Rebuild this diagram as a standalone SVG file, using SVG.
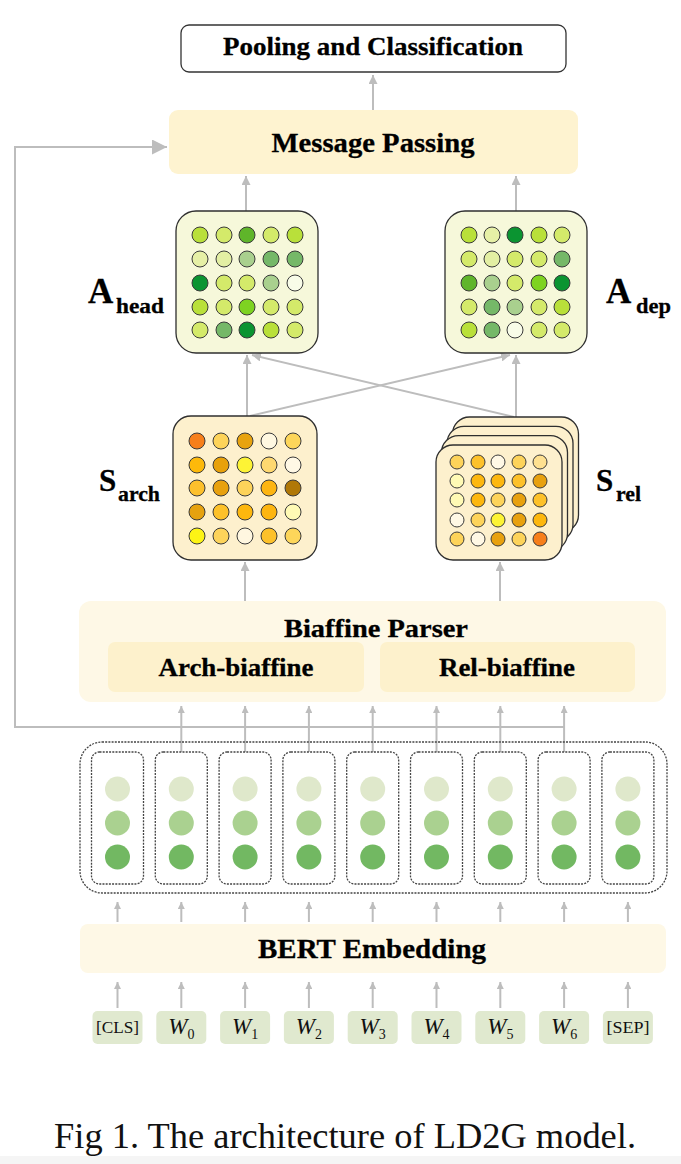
<svg xmlns="http://www.w3.org/2000/svg" width="681" height="1164" viewBox="0 0 681 1164">
<style>
.t{font-family:"Liberation Serif","Times New Roman",serif;font-weight:bold;fill:#000;stroke:#000;stroke-width:0.3}
.c{stroke:#3a3a3a;stroke-width:1}
.con{stroke:#bdbdbd;stroke-width:2;fill:none}
.mat{stroke:#2f2f2f;stroke-width:1.3}
.dot{fill:none;stroke:#444;stroke-width:1.3;stroke-dasharray:2 1.2}
.tok{fill:#e0e9cf}
.tt{font-family:"Liberation Serif","Times New Roman",serif;fill:#111}
</style>
<defs>
<marker id="ah" viewBox="0 0 10 10" refX="10" refY="5" markerWidth="9" markerHeight="9" markerUnits="userSpaceOnUse" orient="auto"><path d="M0,0 L10,5 L0,10 z" fill="#bdbdbd"/></marker>
<marker id="ahs" viewBox="0 0 10 10" refX="10" refY="5" markerWidth="8" markerHeight="7" markerUnits="userSpaceOnUse" orient="auto"><path d="M0,0 L10,5 L0,10 z" fill="#bdbdbd"/></marker>
<marker id="ahb" viewBox="0 0 10 10" refX="10" refY="5" markerWidth="16" markerHeight="15" markerUnits="userSpaceOnUse" orient="auto"><path d="M0,0 L10,5 L0,10 z" fill="#bdbdbd"/></marker>
</defs>
<rect x="0" y="0" width="681" height="1164" fill="#ffffff"/>
<rect x="0" y="1156" width="681" height="8" fill="#f5f5f5"/>

<g id="connectors">
<line class="con" x1="373" y1="110" x2="373" y2="75" marker-end="url(#ah)"/>
<line class="con" x1="246" y1="211" x2="246" y2="176" marker-end="url(#ah)"/>
<line class="con" x1="516" y1="211" x2="516" y2="176" marker-end="url(#ah)"/>
<polyline class="con" points="564,727 15,727 15,147 167,147" marker-end="url(#ahb)"/>
<line class="con" x1="247" y1="416" x2="247" y2="355" marker-end="url(#ah)"/>
<line class="con" x1="250" y1="416" x2="510" y2="355" marker-end="url(#ah)"/>
<line class="con" x1="514" y1="417" x2="252" y2="355" marker-end="url(#ah)"/>
<line class="con" x1="516" y1="417" x2="516" y2="355" marker-end="url(#ah)"/>
<line class="con" x1="245" y1="636" x2="245" y2="562" marker-end="url(#ah)"/>
<line class="con" x1="500" y1="636" x2="500" y2="562" marker-end="url(#ah)"/>
<g marker-end="url(#ahs)">
<line class="con" x1="181.3" y1="752" x2="181.3" y2="706"/>
<line class="con" x1="245.1" y1="752" x2="245.1" y2="706"/>
<line class="con" x1="308.9" y1="752" x2="308.9" y2="706"/>
<line class="con" x1="372.7" y1="752" x2="372.7" y2="706"/>
<line class="con" x1="436.5" y1="752" x2="436.5" y2="706"/>
<line class="con" x1="500.3" y1="752" x2="500.3" y2="706"/>
<line class="con" x1="564.1" y1="752" x2="564.1" y2="706"/>
</g>
<g marker-end="url(#ahs)">
<line class="con" x1="117.5" y1="922" x2="117.5" y2="902"/>
<line class="con" x1="181.3" y1="922" x2="181.3" y2="902"/>
<line class="con" x1="245.1" y1="922" x2="245.1" y2="902"/>
<line class="con" x1="308.9" y1="922" x2="308.9" y2="902"/>
<line class="con" x1="372.7" y1="922" x2="372.7" y2="902"/>
<line class="con" x1="436.5" y1="922" x2="436.5" y2="902"/>
<line class="con" x1="500.3" y1="922" x2="500.3" y2="902"/>
<line class="con" x1="564.1" y1="922" x2="564.1" y2="902"/>
<line class="con" x1="627.9" y1="922" x2="627.9" y2="902"/>
</g>
<g marker-end="url(#ahs)">
<line class="con" x1="117.5" y1="1008" x2="117.5" y2="982"/>
<line class="con" x1="181.3" y1="1008" x2="181.3" y2="982"/>
<line class="con" x1="245.1" y1="1008" x2="245.1" y2="982"/>
<line class="con" x1="308.9" y1="1008" x2="308.9" y2="982"/>
<line class="con" x1="372.7" y1="1008" x2="372.7" y2="982"/>
<line class="con" x1="436.5" y1="1008" x2="436.5" y2="982"/>
<line class="con" x1="500.3" y1="1008" x2="500.3" y2="982"/>
<line class="con" x1="564.1" y1="1008" x2="564.1" y2="982"/>
<line class="con" x1="627.9" y1="1008" x2="627.9" y2="982"/>
</g>
</g>

<g id="pooling">
<rect x="181" y="25" width="385" height="47" rx="8" fill="#fff" stroke="#333" stroke-width="1.3"/>
<text class="t" x="373" y="55" font-size="26" text-anchor="middle" textLength="300" lengthAdjust="spacingAndGlyphs">Pooling and Classification</text>
</g>

<g id="message-passing">
<rect x="169" y="110" width="409" height="64" rx="9" fill="#fef3d0"/>
<text class="t" x="373" y="152" font-size="28" text-anchor="middle" textLength="203" lengthAdjust="spacingAndGlyphs">Message Passing</text>
</g>

<g id="A-head">
<rect class="mat" x="176" y="211" width="142" height="142" rx="20" fill="#f6f8da"/>
<circle class="c" cx="200" cy="235" r="8" fill="#b9e03a"/><circle class="c" cx="224" cy="235" r="8" fill="#d4ea6a"/><circle class="c" cx="247" cy="235" r="8" fill="#5fb52a"/><circle class="c" cx="271" cy="235" r="8" fill="#d4ea6a"/><circle class="c" cx="295" cy="235" r="8" fill="#b9e03a"/>
<circle class="c" cx="200" cy="259" r="8" fill="#e6f0a6"/><circle class="c" cx="224" cy="259" r="8" fill="#e3efa3"/><circle class="c" cx="247" cy="259" r="8" fill="#a9d08e"/><circle class="c" cx="271" cy="259" r="8" fill="#75b868"/><circle class="c" cx="295" cy="259" r="8" fill="#75b868"/>
<circle class="c" cx="200" cy="283" r="8" fill="#0b9431"/><circle class="c" cx="224" cy="283" r="8" fill="#d4ea6a"/><circle class="c" cx="247" cy="283" r="8" fill="#d4ea6a"/><circle class="c" cx="271" cy="283" r="8" fill="#a9d08e"/><circle class="c" cx="295" cy="283" r="8" fill="#f8fce8"/>
<circle class="c" cx="200" cy="307" r="8" fill="#b9e03a"/><circle class="c" cx="224" cy="307" r="8" fill="#d4ea6a"/><circle class="c" cx="247" cy="307" r="8" fill="#7ed321"/><circle class="c" cx="271" cy="307" r="8" fill="#d4ea6a"/><circle class="c" cx="295" cy="307" r="8" fill="#d4ea6a"/>
<circle class="c" cx="200" cy="330" r="8" fill="#d4ea6a"/><circle class="c" cx="224" cy="330" r="8" fill="#75b868"/><circle class="c" cx="247" cy="330" r="8" fill="#0b9431"/><circle class="c" cx="271" cy="330" r="8" fill="#b9e03a"/><circle class="c" cx="295" cy="330" r="8" fill="#d4ea6a"/>
<text class="t" x="88" y="303" font-size="35">A</text>
<text class="t" x="116" y="313" font-size="22" textLength="48" lengthAdjust="spacingAndGlyphs">head</text>
</g>

<g id="A-dep">
<rect class="mat" x="445" y="211" width="142" height="142" rx="20" fill="#f6f8da"/>
<circle class="c" cx="469" cy="235" r="8" fill="#b9e03a"/><circle class="c" cx="492" cy="235" r="8" fill="#e6f0a6"/><circle class="c" cx="515" cy="235" r="8" fill="#0b9431"/><circle class="c" cx="539" cy="235" r="8" fill="#b9e03a"/><circle class="c" cx="562" cy="235" r="8" fill="#d4ea6a"/>
<circle class="c" cx="469" cy="259" r="8" fill="#d4ea6a"/><circle class="c" cx="492" cy="259" r="8" fill="#e3efa3"/><circle class="c" cx="515" cy="259" r="8" fill="#d4ea6a"/><circle class="c" cx="539" cy="259" r="8" fill="#d4ea6a"/><circle class="c" cx="562" cy="259" r="8" fill="#75b868"/>
<circle class="c" cx="469" cy="283" r="8" fill="#5fb52a"/><circle class="c" cx="492" cy="283" r="8" fill="#a9d08e"/><circle class="c" cx="515" cy="283" r="8" fill="#d4ea6a"/><circle class="c" cx="539" cy="283" r="8" fill="#7ed321"/><circle class="c" cx="562" cy="283" r="8" fill="#0b9431"/>
<circle class="c" cx="469" cy="307" r="8" fill="#d4ea6a"/><circle class="c" cx="492" cy="307" r="8" fill="#75b868"/><circle class="c" cx="515" cy="307" r="8" fill="#a9d08e"/><circle class="c" cx="539" cy="307" r="8" fill="#d4ea6a"/><circle class="c" cx="562" cy="307" r="8" fill="#b9e03a"/>
<circle class="c" cx="469" cy="330" r="8" fill="#b9e03a"/><circle class="c" cx="492" cy="330" r="8" fill="#75b868"/><circle class="c" cx="515" cy="330" r="8" fill="#f8fce8"/><circle class="c" cx="539" cy="330" r="8" fill="#d4ea6a"/><circle class="c" cx="562" cy="330" r="8" fill="#d4ea6a"/>
<text class="t" x="606" y="303" font-size="35">A</text>
<text class="t" x="636" y="313" font-size="22" textLength="35" lengthAdjust="spacingAndGlyphs">dep</text>
</g>

<g id="S-arch">
<rect class="mat" x="173" y="416" width="144" height="144" rx="18" fill="#fdf0cd"/>
<circle class="c" cx="197" cy="441" r="8" fill="#f77f1b"/><circle class="c" cx="221" cy="441" r="8" fill="#fdd35a"/><circle class="c" cx="245" cy="441" r="8" fill="#e8a30f"/><circle class="c" cx="269" cy="441" r="8" fill="#fff8e1"/><circle class="c" cx="293" cy="441" r="8" fill="#fdd65a"/>
<circle class="c" cx="197" cy="465" r="8" fill="#fdb90a"/><circle class="c" cx="221" cy="465" r="8" fill="#e8a10a"/><circle class="c" cx="245" cy="465" r="8" fill="#fdf335"/><circle class="c" cx="269" cy="465" r="8" fill="#fed870"/><circle class="c" cx="293" cy="465" r="8" fill="#fff8e5"/>
<circle class="c" cx="197" cy="488" r="8" fill="#fdc02c"/><circle class="c" cx="221" cy="488" r="8" fill="#e8a10f"/><circle class="c" cx="245" cy="488" r="8" fill="#fdd35a"/><circle class="c" cx="269" cy="488" r="8" fill="#fdb512"/><circle class="c" cx="293" cy="488" r="8" fill="#b07807"/>
<circle class="c" cx="197" cy="512" r="8" fill="#e6a20f"/><circle class="c" cx="221" cy="512" r="8" fill="#fdc12a"/><circle class="c" cx="245" cy="512" r="8" fill="#fdb70e"/><circle class="c" cx="269" cy="512" r="8" fill="#fdb510"/><circle class="c" cx="293" cy="512" r="8" fill="#fffab5"/>
<circle class="c" cx="197" cy="536" r="8" fill="#fdf415"/><circle class="c" cx="221" cy="536" r="8" fill="#fdd35a"/><circle class="c" cx="245" cy="536" r="8" fill="#fff7e0"/><circle class="c" cx="269" cy="536" r="8" fill="#fdc12a"/><circle class="c" cx="293" cy="536" r="8" fill="#fdd65a"/>
<text class="t" x="99" y="491" font-size="31">S</text>
<text class="t" x="118" y="501" font-size="21" textLength="42" lengthAdjust="spacingAndGlyphs">arch</text>
</g>

<g id="S-rel">
<rect class="mat" x="452.5" y="417" width="126" height="115" rx="17" fill="#fdf0cd"/>
<rect class="mat" x="447" y="426.3" width="126" height="115" rx="17" fill="#fdf0cd"/>
<rect class="mat" x="441.5" y="435.6" width="126" height="115" rx="17" fill="#fdf0cd"/>
<rect class="mat" x="436" y="445" width="126" height="115" rx="17" fill="#fdf0cd"/>
<circle class="c" cx="457" cy="462" r="7" fill="#fdd35a"/><circle class="c" cx="478" cy="462" r="7" fill="#fdc12a"/><circle class="c" cx="498" cy="462" r="7" fill="#fff8e5"/><circle class="c" cx="519" cy="462" r="7" fill="#fdd35a"/><circle class="c" cx="540" cy="462" r="7" fill="#fee090"/>
<circle class="c" cx="457" cy="481" r="7" fill="#fffab5"/><circle class="c" cx="478" cy="481" r="7" fill="#fdb70e"/><circle class="c" cx="498" cy="481" r="7" fill="#fdb70e"/><circle class="c" cx="519" cy="481" r="7" fill="#fdc12a"/><circle class="c" cx="540" cy="481" r="7" fill="#e8a10f"/>
<circle class="c" cx="457" cy="500" r="7" fill="#fffab5"/><circle class="c" cx="478" cy="500" r="7" fill="#fdb70e"/><circle class="c" cx="498" cy="500" r="7" fill="#fdd35a"/><circle class="c" cx="519" cy="500" r="7" fill="#e8a10f"/><circle class="c" cx="540" cy="500" r="7" fill="#fdc12a"/>
<circle class="c" cx="457" cy="520" r="7" fill="#fff8e5"/><circle class="c" cx="478" cy="520" r="7" fill="#fdd35a"/><circle class="c" cx="498" cy="520" r="7" fill="#fdf335"/><circle class="c" cx="519" cy="520" r="7" fill="#e8a10f"/><circle class="c" cx="540" cy="520" r="7" fill="#fdb70e"/>
<circle class="c" cx="457" cy="539" r="7" fill="#fdd35a"/><circle class="c" cx="478" cy="539" r="7" fill="#fff8e5"/><circle class="c" cx="498" cy="539" r="7" fill="#e8a10f"/><circle class="c" cx="519" cy="539" r="7" fill="#fdd35a"/><circle class="c" cx="540" cy="539" r="7" fill="#f77f1b"/>
<text class="t" x="596" y="491" font-size="31">S</text>
<text class="t" x="616" y="501" font-size="21" textLength="25" lengthAdjust="spacingAndGlyphs">rel</text>
</g>

<g id="biaffine-parser">
<rect x="79" y="601" width="587" height="101" rx="12" fill="#fef8e6"/>
<text class="t" x="376" y="637" font-size="25" text-anchor="middle" textLength="184" lengthAdjust="spacingAndGlyphs">Biaffine Parser</text>
</g>
<g id="arch-biaffine">
<rect x="108" y="642" width="256" height="50" rx="7" fill="#fdf1cc"/>
<text class="t" x="236" y="676" font-size="25" text-anchor="middle" textLength="155" lengthAdjust="spacingAndGlyphs">Arch-biaffine</text>
</g>
<g id="rel-biaffine">
<rect x="380" y="642" width="255" height="50" rx="7" fill="#fdf1cc"/>
<text class="t" x="507" y="676" font-size="25" text-anchor="middle" textLength="136" lengthAdjust="spacingAndGlyphs">Rel-biaffine</text>
</g>

<g id="hidden-states">
<rect class="dot" x="80" y="742" width="587" height="151" rx="22"/>
<g id="col0"><rect class="dot" x="91.5" y="752" width="52" height="132" rx="8"/><circle cx="117.5" cy="789" r="12.5" fill="#dfe8cb"/><circle cx="117.5" cy="823" r="12.5" fill="#aad190"/><circle cx="117.5" cy="857" r="12.5" fill="#72b862"/></g>
<g id="col1"><rect class="dot" x="155.3" y="752" width="52" height="132" rx="8"/><circle cx="181.3" cy="789" r="12.5" fill="#dfe8cb"/><circle cx="181.3" cy="823" r="12.5" fill="#aad190"/><circle cx="181.3" cy="857" r="12.5" fill="#72b862"/></g>
<g id="col2"><rect class="dot" x="219.1" y="752" width="52" height="132" rx="8"/><circle cx="245.1" cy="789" r="12.5" fill="#dfe8cb"/><circle cx="245.1" cy="823" r="12.5" fill="#aad190"/><circle cx="245.1" cy="857" r="12.5" fill="#72b862"/></g>
<g id="col3"><rect class="dot" x="282.9" y="752" width="52" height="132" rx="8"/><circle cx="308.9" cy="789" r="12.5" fill="#dfe8cb"/><circle cx="308.9" cy="823" r="12.5" fill="#aad190"/><circle cx="308.9" cy="857" r="12.5" fill="#72b862"/></g>
<g id="col4"><rect class="dot" x="346.7" y="752" width="52" height="132" rx="8"/><circle cx="372.7" cy="789" r="12.5" fill="#dfe8cb"/><circle cx="372.7" cy="823" r="12.5" fill="#aad190"/><circle cx="372.7" cy="857" r="12.5" fill="#72b862"/></g>
<g id="col5"><rect class="dot" x="410.5" y="752" width="52" height="132" rx="8"/><circle cx="436.5" cy="789" r="12.5" fill="#dfe8cb"/><circle cx="436.5" cy="823" r="12.5" fill="#aad190"/><circle cx="436.5" cy="857" r="12.5" fill="#72b862"/></g>
<g id="col6"><rect class="dot" x="474.3" y="752" width="52" height="132" rx="8"/><circle cx="500.3" cy="789" r="12.5" fill="#dfe8cb"/><circle cx="500.3" cy="823" r="12.5" fill="#aad190"/><circle cx="500.3" cy="857" r="12.5" fill="#72b862"/></g>
<g id="col7"><rect class="dot" x="538.1" y="752" width="52" height="132" rx="8"/><circle cx="564.1" cy="789" r="12.5" fill="#dfe8cb"/><circle cx="564.1" cy="823" r="12.5" fill="#aad190"/><circle cx="564.1" cy="857" r="12.5" fill="#72b862"/></g>
<g id="col8"><rect class="dot" x="601.9" y="752" width="52" height="132" rx="8"/><circle cx="627.9" cy="789" r="12.5" fill="#dfe8cb"/><circle cx="627.9" cy="823" r="12.5" fill="#aad190"/><circle cx="627.9" cy="857" r="12.5" fill="#72b862"/></g>
</g>

<g id="bert-embedding">
<rect x="80" y="924" width="586" height="49" rx="8" fill="#fef8e6"/>
<text class="t" x="372" y="958" font-size="28" text-anchor="middle" textLength="228" lengthAdjust="spacingAndGlyphs">BERT Embedding</text>
</g>

<g id="tokens">
<g id="tok-cls"><rect class="tok" x="92.5" y="1011" width="50" height="33" rx="5"/><text class="tt" x="96" y="1033" font-size="16" textLength="43" lengthAdjust="spacingAndGlyphs">[CLS]</text></g>
<g id="tok-w0"><rect class="tok" x="156.3" y="1011" width="50" height="33" rx="5"/><text class="tt" x="181.3" y="1034" font-size="23" text-anchor="middle"><tspan font-style="italic">W</tspan><tspan font-size="14" dy="5">0</tspan></text></g>
<g id="tok-w1"><rect class="tok" x="220.1" y="1011" width="50" height="33" rx="5"/><text class="tt" x="245.1" y="1034" font-size="23" text-anchor="middle"><tspan font-style="italic">W</tspan><tspan font-size="14" dy="5">1</tspan></text></g>
<g id="tok-w2"><rect class="tok" x="283.9" y="1011" width="50" height="33" rx="5"/><text class="tt" x="308.9" y="1034" font-size="23" text-anchor="middle"><tspan font-style="italic">W</tspan><tspan font-size="14" dy="5">2</tspan></text></g>
<g id="tok-w3"><rect class="tok" x="347.7" y="1011" width="50" height="33" rx="5"/><text class="tt" x="372.7" y="1034" font-size="23" text-anchor="middle"><tspan font-style="italic">W</tspan><tspan font-size="14" dy="5">3</tspan></text></g>
<g id="tok-w4"><rect class="tok" x="411.5" y="1011" width="50" height="33" rx="5"/><text class="tt" x="436.5" y="1034" font-size="23" text-anchor="middle"><tspan font-style="italic">W</tspan><tspan font-size="14" dy="5">4</tspan></text></g>
<g id="tok-w5"><rect class="tok" x="475.3" y="1011" width="50" height="33" rx="5"/><text class="tt" x="500.3" y="1034" font-size="23" text-anchor="middle"><tspan font-style="italic">W</tspan><tspan font-size="14" dy="5">5</tspan></text></g>
<g id="tok-w6"><rect class="tok" x="539.1" y="1011" width="50" height="33" rx="5"/><text class="tt" x="564.1" y="1034" font-size="23" text-anchor="middle"><tspan font-style="italic">W</tspan><tspan font-size="14" dy="5">6</tspan></text></g>
<g id="tok-sep"><rect class="tok" x="602.9" y="1011" width="50" height="33" rx="5"/><text class="tt" x="606.5" y="1033" font-size="16" textLength="43" lengthAdjust="spacingAndGlyphs">[SEP]</text></g>
</g>

<text class="tt" x="345" y="1148" font-size="35" text-anchor="middle" textLength="582" lengthAdjust="spacingAndGlyphs">Fig 1. The architecture of LD2G model.</text>
</svg>
